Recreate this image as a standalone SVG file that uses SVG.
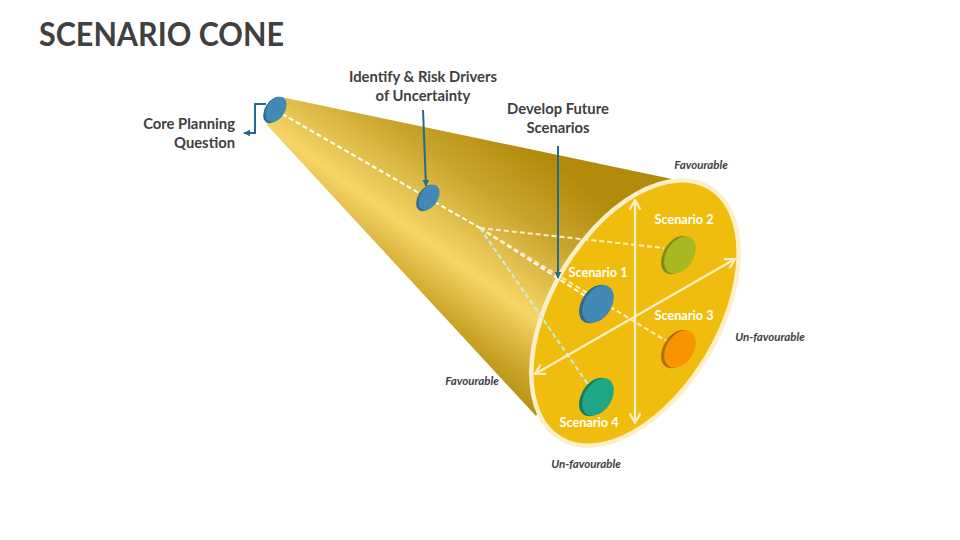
<svg xmlns="http://www.w3.org/2000/svg" width="960" height="540" viewBox="0 0 960 540">
<defs>
<linearGradient id="cone" gradientUnits="userSpaceOnUse" x1="388" y1="323" x2="550" y2="96">
<stop offset="0" stop-color="#b08a08"/>
<stop offset="0.14" stop-color="#cba52a"/>
<stop offset="0.32" stop-color="#f6d566"/>
<stop offset="0.58" stop-color="#cba62f"/>
<stop offset="0.82" stop-color="#b08a08"/>
<stop offset="1" stop-color="#b08a08"/>
</linearGradient>
<marker id="w" viewBox="0 0 10 10" refX="9" refY="5" markerWidth="12" markerHeight="12" markerUnits="userSpaceOnUse" orient="auto-start-reverse"><path d="M1 0.5L9 5L1 9.5" fill="none" stroke="#fdf0c8" stroke-width="1.8"/></marker>
<marker id="b" viewBox="0 0 10 10" refX="9" refY="5" markerWidth="7" markerHeight="7" markerUnits="userSpaceOnUse" orient="auto"><path d="M0 0L10 5L0 10Z" fill="#266a8c"/></marker>
</defs>
<style>
text{font-family:Lato,"Open Sans","Liberation Sans",sans-serif}
.title{font-size:33px;font-weight:700;fill:#404040}
.lab{font-size:14.800px;font-weight:700;fill:#404040;text-anchor:middle}
.ax{font-size:11.500px;font-weight:700;font-style:italic;fill:#404040;text-anchor:middle}
.sc{font-size:12.700px;font-weight:700;fill:#fff;text-anchor:middle}
.d{fill:none;stroke-width:2;stroke-dasharray:5 3}
.a{fill:none;stroke:#fdf0c8;stroke-width:2.200;marker-end:url(#w);marker-start:url(#w)}
.bl{fill:none;stroke:#266a8c;stroke-width:2;marker-end:url(#b)}
</style>
<text class="title" x="39" y="46" textLength="245" lengthAdjust="spacingAndGlyphs">SCENARIO CONE</text>
<g id="cone-body">
<path d="M281 97L672 179L536 416L266 124Z" fill="url(#cone)"/>
</g>
<g id="cone-face">
<ellipse cx="635" cy="313" rx="84" ry="146" transform="rotate(30.600 635 313)" fill="#f0bd0e" stroke="#fdf0c8" stroke-width="4.500"/>
</g>
<g id="connectors">
<path class="d" stroke="#fff" d="M275 110L480 228"/>
<path class="d" stroke="#fff" d="M480 228L596 303"/>
<path class="d" stroke="#fdf0c8" d="M480 228L664 248"/>
<path class="d" stroke="#fdf0c8" d="M480 228L678 348"/>
<path class="d" stroke="#c5f0e8" d="M480 228L596 396"/>
<path class="a" d="M635 200V423"/>
<path class="a" d="M735 259L535 374"/>
<path class="bl" d="M423 110L426 186"/>
<path class="bl" d="M558 146V278"/>
<path class="bl" d="M266 104H255V133H244"/>
</g>
<g id="node-core"><ellipse cx="274" cy="110" rx="9" ry="14.500" transform="rotate(32 274 110)" fill="#2e6a8c"/><ellipse cx="276" cy="109.500" rx="9" ry="14" transform="rotate(32 276 109.500)" fill="#4289b5"/></g>
<g id="node-drivers"><ellipse cx="427" cy="198" rx="9" ry="14.500" transform="rotate(32 427 198)" fill="#2e6a8c"/><ellipse cx="429" cy="197.500" rx="9" ry="14" transform="rotate(32 429 197.500)" fill="#4289b5"/></g>
<g id="node-s1"><ellipse cx="595" cy="304" rx="13.500" ry="21" transform="rotate(32 595 304)" fill="#2e6a8c"/><ellipse cx="598" cy="304" rx="13.500" ry="20.500" transform="rotate(32 598 304)" fill="#4289b5"/></g>
<g id="node-s2"><ellipse cx="677" cy="255" rx="13.500" ry="21" transform="rotate(32 677 255)" fill="#7c8a22"/><ellipse cx="680" cy="255" rx="13.500" ry="20.500" transform="rotate(32 680 255)" fill="#a8b823"/></g>
<g id="node-s3"><ellipse cx="677" cy="349" rx="13.500" ry="21" transform="rotate(32 677 349)" fill="#b06d08"/><ellipse cx="680" cy="349" rx="13.500" ry="20.500" transform="rotate(32 680 349)" fill="#f79400"/></g>
<g id="node-s4"><ellipse cx="595" cy="397" rx="13.500" ry="21" transform="rotate(32 595 397)" fill="#157a64"/><ellipse cx="598" cy="397" rx="13.500" ry="20.500" transform="rotate(32 598 397)" fill="#1fa686"/></g>
<g id="labels">
<text class="lab" x="423" y="82">Identify &amp; Risk Drivers</text>
<text class="lab" x="423" y="101">of Uncertainty</text>
<text class="lab" x="558" y="114">Develop Future</text>
<text class="lab" x="558" y="133">Scenarios</text>
<text class="lab" x="235" y="129" style="text-anchor:end">Core Planning</text>
<text class="lab" x="235" y="148" style="text-anchor:end">Question</text>
<text class="sc" x="684" y="224">Scenario 2</text>
<text class="sc" x="598" y="277">Scenario 1</text>
<text class="sc" x="684" y="320">Scenario 3</text>
<text class="sc" x="589" y="427">Scenario 4</text>
<text class="ax" x="701" y="169">Favourable</text>
<text class="ax" x="770" y="341">Un-favourable</text>
<text class="ax" x="472" y="385">Favourable</text>
<text class="ax" x="586" y="468">Un-favourable</text>
</g>
</svg>
